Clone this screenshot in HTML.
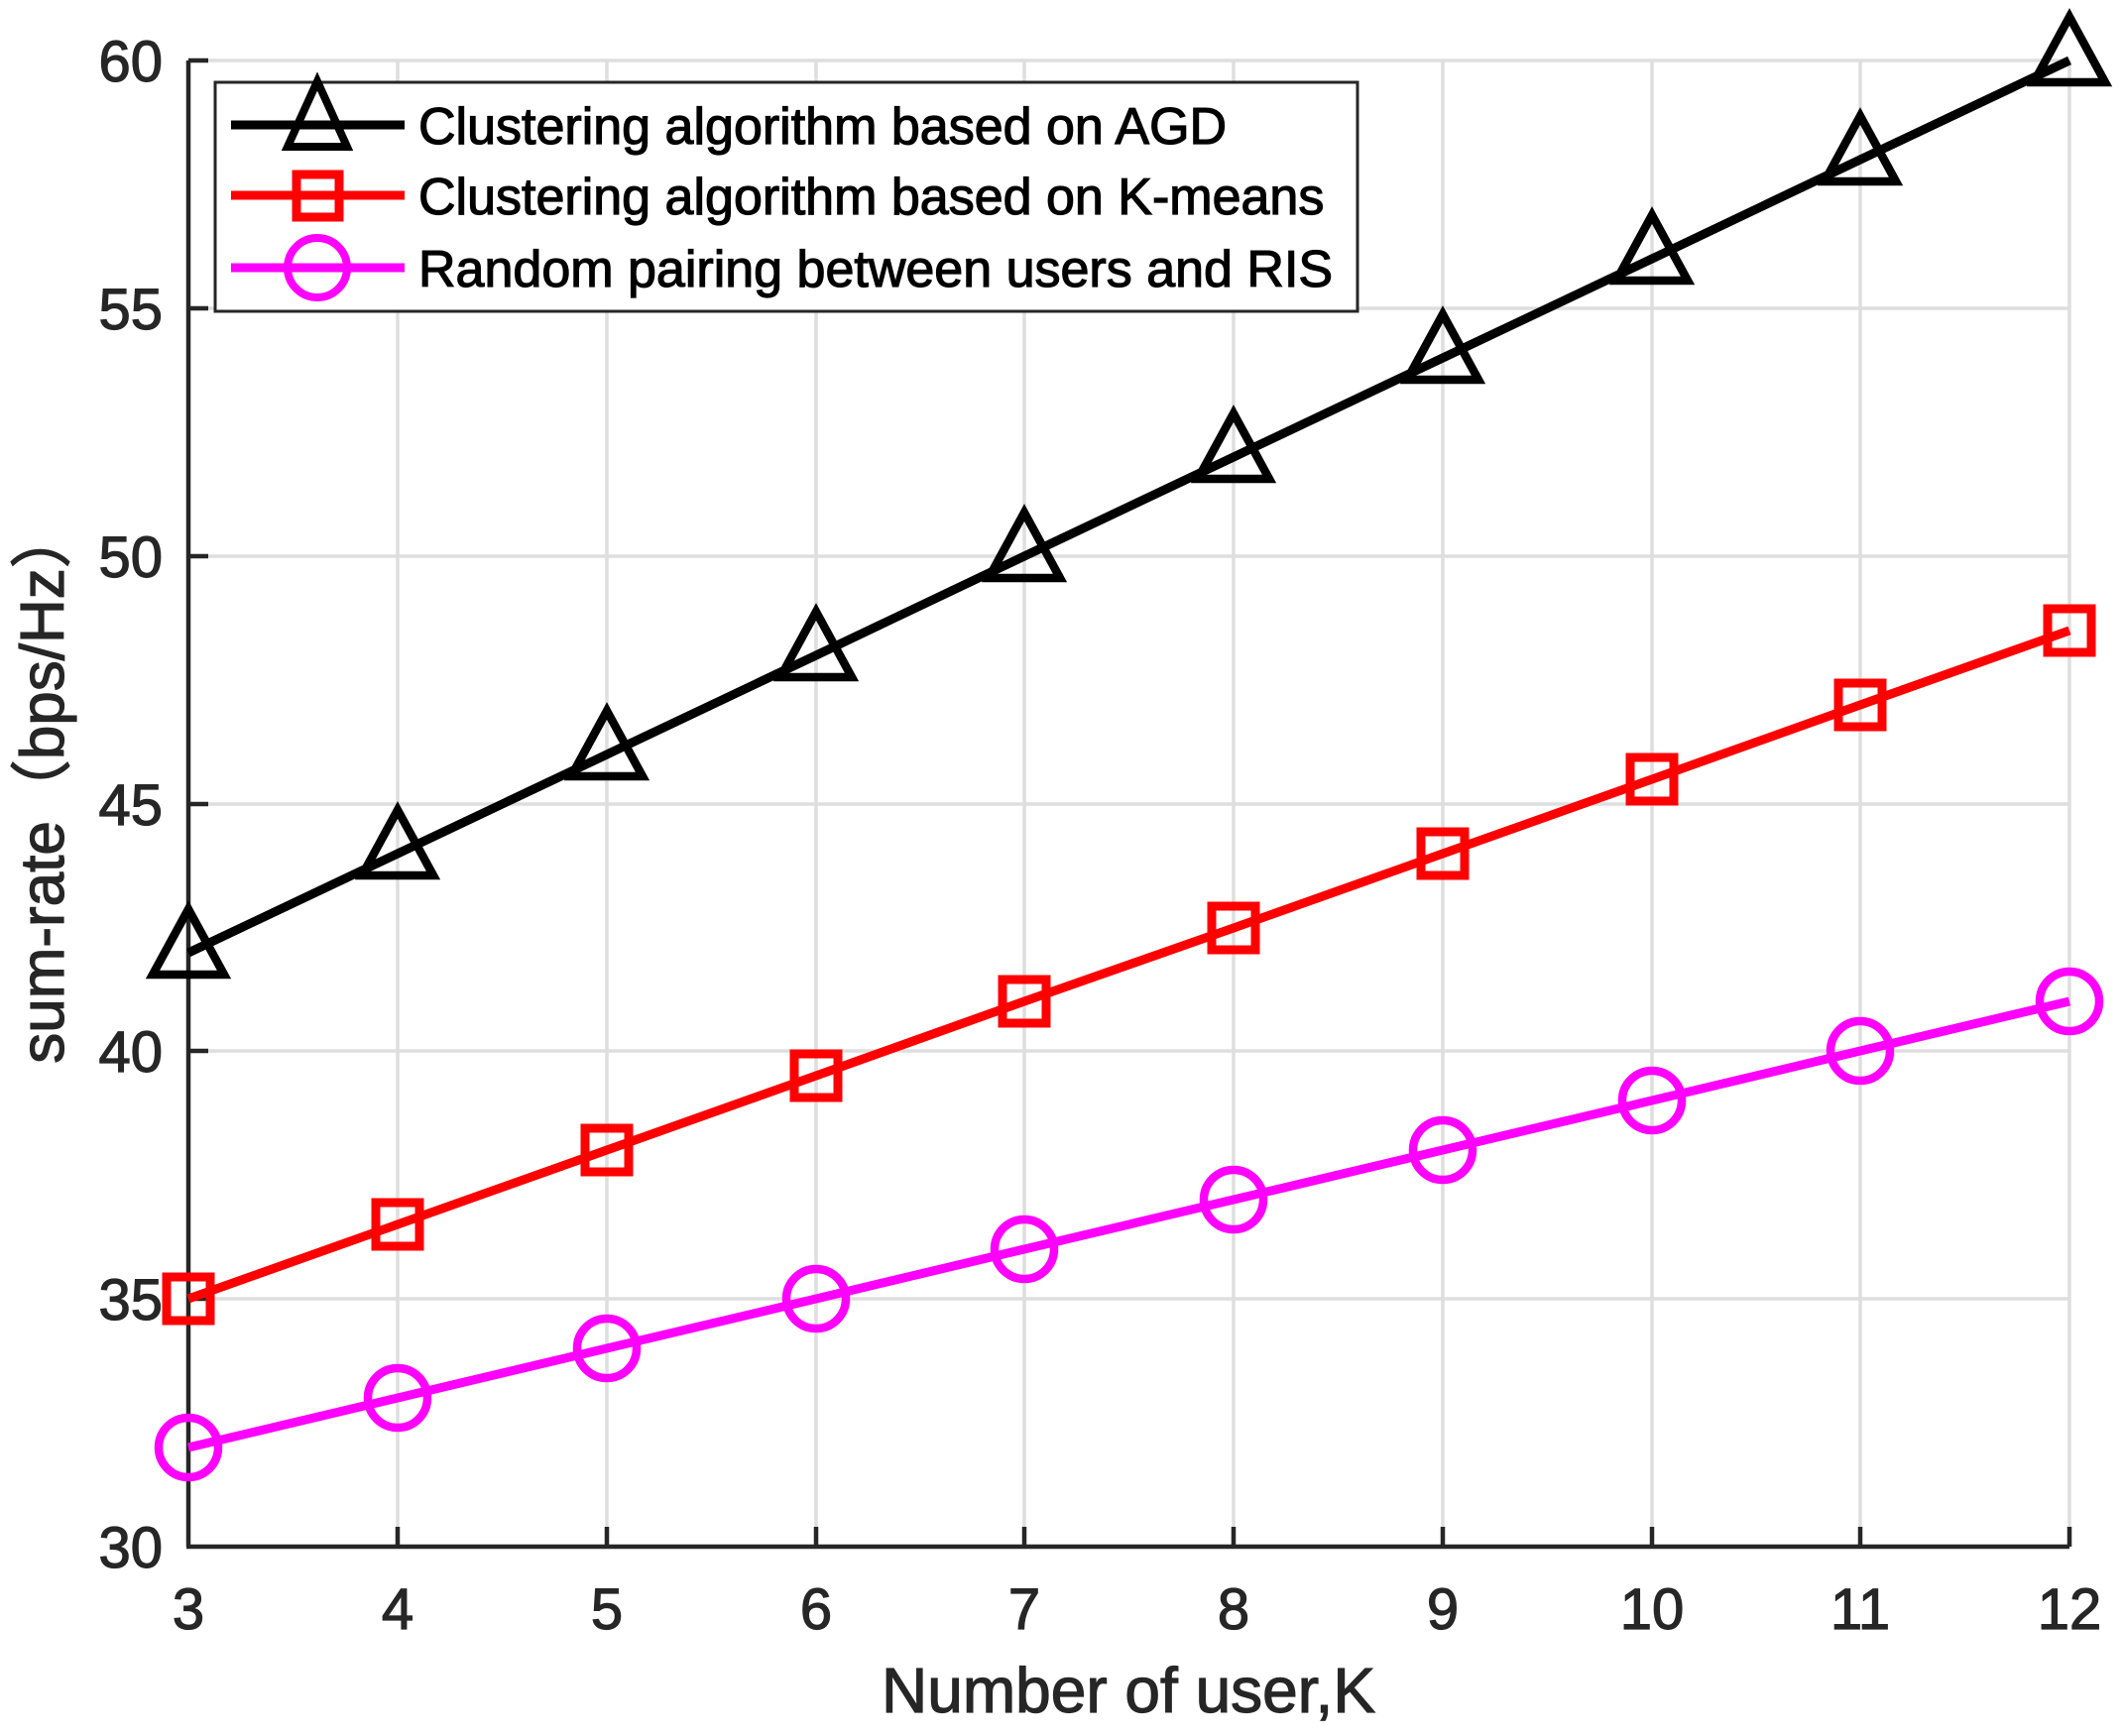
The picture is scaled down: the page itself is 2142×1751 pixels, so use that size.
<!DOCTYPE html>
<html><head><meta charset="utf-8"><style>html,body{margin:0;padding:0;background:#fff}</style></head>
<body>
<svg width="2142" height="1746" xmlns="http://www.w3.org/2000/svg" font-family="Liberation Sans, Arial, sans-serif">
<rect width="2142" height="1746" fill="#fff"/>
<g stroke="#dedede" stroke-width="3.5">
<line x1="401" y1="61" x2="401" y2="1560"/><line x1="612" y1="61" x2="612" y2="1560"/><line x1="823" y1="61" x2="823" y2="1560"/><line x1="1033" y1="61" x2="1033" y2="1560"/><line x1="1244" y1="61" x2="1244" y2="1560"/><line x1="1455" y1="61" x2="1455" y2="1560"/><line x1="1666" y1="61" x2="1666" y2="1560"/><line x1="1876" y1="61" x2="1876" y2="1560"/><line x1="2087" y1="61" x2="2087" y2="1560"/>
<line x1="190" y1="61" x2="2087" y2="61"/><line x1="190" y1="311" x2="2087" y2="311"/><line x1="190" y1="561" x2="2087" y2="561"/><line x1="190" y1="811" x2="2087" y2="811"/><line x1="190" y1="1060" x2="2087" y2="1060"/><line x1="190" y1="1310" x2="2087" y2="1310"/>
</g>
<g stroke="#262626" stroke-width="4.5" fill="none">
<line x1="190" y1="61" x2="190" y2="1560"/><line x1="188" y1="1560" x2="2087" y2="1560"/>
<path d="M401 1560v-20M612 1560v-20M823 1560v-20M1033 1560v-20M1244 1560v-20M1455 1560v-20M1666 1560v-20M1876 1560v-20M2087 1560v-20"/>
<path d="M190 61h20M190 311h20M190 561h20M190 811h20M190 1060h20M190 1310h20"/>
</g>
<g fill="#262626" stroke="#262626" stroke-width="1.2" font-size="58" text-anchor="middle">
<text x="190" y="1643">3</text><text x="401" y="1643">4</text><text x="612" y="1643">5</text><text x="823" y="1643">6</text><text x="1033" y="1643">7</text><text x="1244" y="1643">8</text><text x="1455" y="1643">9</text><text x="1666" y="1643">10</text><text x="1876" y="1643">11</text><text x="2087" y="1643">12</text>
</g>
<g fill="#262626" stroke="#262626" stroke-width="1.2" font-size="58" text-anchor="end">
<text x="164" y="1581">30</text><text x="164" y="1331">35</text><text x="164" y="1081">40</text><text x="164" y="832">45</text><text x="164" y="582">50</text><text x="164" y="332">55</text><text x="164" y="82">60</text>
</g>
<text x="1138" y="1727" font-size="64" fill="#262626" stroke="#262626" stroke-width="1.2" text-anchor="middle">Number of user,K</text>
<text transform="translate(64,792) rotate(-90)" font-size="62" fill="#262626" stroke="#262626" stroke-width="1.2" text-anchor="middle" font-family="Liberation Sans, Noto Sans CJK SC, sans-serif">sum-rate（bps/Hz）</text>
<polyline fill="none" stroke="#000" stroke-width="9" points="190,961 401,861 612,761 823,661 1033,561 1244,461 1455,361 1666,261 1876,161 2087,61"/>
<g fill="none" stroke="#000" stroke-width="8.5">
<path d="M0,-44 L36,22 L-36,22 Z" transform="translate(190,961)"/>
<path d="M0,-44 L36,22 L-36,22 Z" transform="translate(401,861)"/>
<path d="M0,-44 L36,22 L-36,22 Z" transform="translate(612,761)"/>
<path d="M0,-44 L36,22 L-36,22 Z" transform="translate(823,661)"/>
<path d="M0,-44 L36,22 L-36,22 Z" transform="translate(1033,561)"/>
<path d="M0,-44 L36,22 L-36,22 Z" transform="translate(1244,461)"/>
<path d="M0,-44 L36,22 L-36,22 Z" transform="translate(1455,361)"/>
<path d="M0,-44 L36,22 L-36,22 Z" transform="translate(1666,261)"/>
<path d="M0,-44 L36,22 L-36,22 Z" transform="translate(1876,161)"/>
<path d="M0,-44 L36,22 L-36,22 Z" transform="translate(2087,61)"/>
</g>
<polyline fill="none" stroke="#f00" stroke-width="9" points="190,1310 401,1235 612,1160 823,1085 1033,1010 1244,936 1455,861 1666,786 1876,711 2087,636"/>
<g fill="none" stroke="#f00" stroke-width="9">
<rect x="168" y="1288" width="44" height="44"/><rect x="379" y="1213" width="44" height="44"/><rect x="590" y="1138" width="44" height="44"/><rect x="801" y="1063" width="44" height="44"/><rect x="1011" y="988" width="44" height="44"/><rect x="1222" y="914" width="44" height="44"/><rect x="1433" y="839" width="44" height="44"/><rect x="1644" y="764" width="44" height="44"/><rect x="1854" y="689" width="44" height="44"/><rect x="2065" y="614" width="44" height="44"/>
</g>
<polyline fill="none" stroke="#f0f" stroke-width="9" points="190,1460 401,1410 612,1360 823,1310 1033,1260 1244,1210 1455,1160 1666,1110 1876,1060 2087,1010"/>
<g fill="none" stroke="#f0f" stroke-width="8.5">
<circle cx="190" cy="1460" r="30"/><circle cx="401" cy="1410" r="30"/><circle cx="612" cy="1360" r="30"/><circle cx="823" cy="1310" r="30"/><circle cx="1033" cy="1260" r="30"/><circle cx="1244" cy="1210" r="30"/><circle cx="1455" cy="1160" r="30"/><circle cx="1666" cy="1110" r="30"/><circle cx="1876" cy="1060" r="30"/><circle cx="2087" cy="1010" r="30"/>
</g>
<rect x="217" y="83" width="1152" height="231" fill="#fff" stroke="#262626" stroke-width="3"/>
<line x1="233" y1="126" x2="408" y2="126" stroke="#000" stroke-width="9"/>
<path d="M320,82 L350,148 L290,148 Z" fill="none" stroke="#000" stroke-width="8"/>
<line x1="233" y1="197" x2="408" y2="197" stroke="#f00" stroke-width="9"/>
<rect x="299" y="176" width="43" height="43" fill="none" stroke="#f00" stroke-width="9"/>
<line x1="233" y1="270" x2="408" y2="270" stroke="#f0f" stroke-width="9"/>
<circle cx="320" cy="270" r="30" fill="none" stroke="#f0f" stroke-width="8"/>
<g font-size="52" fill="#000" stroke="#000" stroke-width="1.2">
<text x="422" y="145">Clustering algorithm based on AGD</text>
<text x="422" y="216">Clustering algorithm based on K-means</text>
<text x="422" y="289">Random pairing between users and RIS</text>
</g>
</svg>
</body></html>
